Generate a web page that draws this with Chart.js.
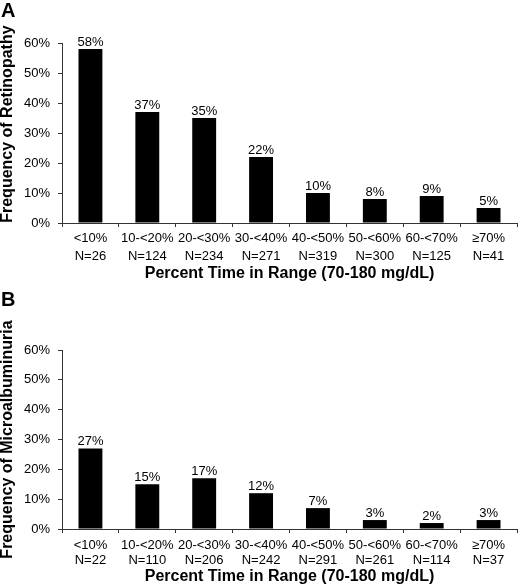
<!DOCTYPE html>
<html lang="en">
<head>
  <meta charset="UTF-8" />
  <title>Time in Range vs Complications</title>
  <script src="https://cdn.jsdelivr.net/npm/chart.js"></script>
  <style>
    body { margin: 0; background: #fff; }
    .panel { position: absolute; left: 0; width: 520px; }
    #panelA { top: 0; height: 284px; }
    #panelB { top: 284px; height: 304px; }
  </style>
</head>
<body>
  <div class="panel" id="panelA"><canvas id="chartA"></canvas></div>
  <div class="panel" id="panelB"><canvas id="chartB"></canvas></div>

  <script>
    const categories = ['<10%', '10-<20%', '20-<30%', '30-<40%', '40-<50%', '50-<60%', '60-<70%', '≥70%'];

    const retinopathyN = [26, 124, 234, 271, 319, 300, 125, 41];
    const retinopathyPct = [58, 37, 35, 22, 10, 8, 9, 5];

    const microN = [22, 110, 206, 242, 291, 261, 114, 37];
    const microPct = [27, 15, 17, 12, 7, 3, 2, 3];

    const FONT = "'Liberation Sans', Arial, sans-serif";

    // value labels above each bar + panel letter
    const barLabels = {
      id: 'barLabels',
      afterDatasetsDraw(chart, args, opts) {
        const ctx = chart.ctx;
        ctx.save();
        ctx.fillStyle = '#000';
        ctx.font = '13px ' + FONT;
        ctx.textAlign = 'center';
        ctx.textBaseline = 'alphabetic';
        const meta = chart.getDatasetMeta(0);
        meta.data.forEach((bar, i) => {
          ctx.fillText(chart.data.datasets[0].data[i] + '%', bar.x, bar.y - 3);
        });
        ctx.font = 'bold 20px ' + FONT;
        ctx.textAlign = 'left';
        ctx.fillText(opts.letter, opts.lx, opts.ly);
        ctx.restore();
      }
    };

    function makeChart(id, cfg) {
      const ctx = document.getElementById(id).getContext('2d');
      return new Chart(ctx, {
        type: 'bar',
        data: {
          labels: categories.map((c, i) => [c, 'N=' + cfg.n[i]]),
          datasets: [{
            data: cfg.pct,
            backgroundColor: '#000',
            barPercentage: 0.42,
            categoryPercentage: 1
          }]
        },
        options: {
          responsive: true,
          maintainAspectRatio: false,
          animation: false,
          layout: { padding: { top: cfg.top, right: 3, left: 0, bottom: 0 } },
          plugins: {
            legend: { display: false },
            tooltip: { enabled: false },
            barLabels: { letter: cfg.letter, lx: 1, ly: cfg.letterY }
          },
          scales: {
            x: {
              afterFit: s => { s.height = cfg.xHeight; },
              grid: { offset: true, drawOnChartArea: false, tickLength: 4, color: '#333' },
              border: { color: '#333' },
              ticks: {
                color: '#000',
                font: { family: FONT, size: 13, lineHeight: cfg.tickLH },
                padding: cfg.tickPad,
                autoSkip: false,
                maxRotation: 0
              },
              title: {
                display: true,
                text: 'Percent Time in Range (70-180 mg/dL)',
                color: '#000',
                font: { family: FONT, size: 16, weight: 'bold', lineHeight: 1.2 },
                padding: { top: 0, bottom: cfg.titlePad }
              }
            },
            y: {
              min: 0,
              max: 60,
              afterFit: s => { s.width = 62; },
              grid: { drawOnChartArea: false, tickLength: 4, color: '#333' },
              border: { color: '#333' },
              ticks: {
                stepSize: 10,
                color: '#000',
                padding: 8,
                font: { family: FONT, size: 13 },
                callback: v => v + '%'
              },
              title: {
                display: true,
                text: cfg.yTitle,
                color: '#000',
                font: { family: FONT, size: 16, weight: 'bold', lineHeight: 1 },
                padding: { top: 0, bottom: 0 }
              }
            }
          }
        },
        plugins: [barLabels]
      });
    }

    // panel A canvas is 284 tall, panel B canvas starts at 284 and is 304 tall
    makeChart('chartA', {
      n: retinopathyN, pct: retinopathyPct, letter: 'A', letterY: 17,
      top: 43, xHeight: 61, tickLH: 1.4, tickPad: 2, titlePad: 1,
      yTitle: '    Frequency of Retinopathy'
    });

    makeChart('chartB', {
      n: microN, pct: microPct, letter: 'B', letterY: 22,
      top: 66, xHeight: 59, tickLH: 1.15, tickPad: 4.5, titlePad: 1.5,
      yTitle: 'Frequency of Microalbuminuria'
    });
  </script>
</body>
</html>
